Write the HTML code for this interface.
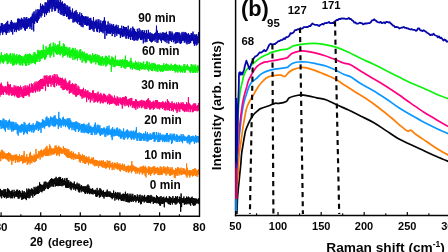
<!DOCTYPE html>
<html><head><meta charset="utf-8"><title>XRD and Raman</title>
<style>
html,body{margin:0;padding:0;background:#fff;}
body{width:448px;height:252px;overflow:hidden;}
svg{display:block;}
svg text{font-family:"Liberation Sans",sans-serif;font-weight:bold;fill:#060606;}
</style></head><body>
<svg width="448" height="252" viewBox="0 0 448 252">
<rect width="448" height="252" fill="#fff"/>
<g id="left-curves">
<path d="M-1.0,34.6 -0.5,23.4 -0.1,35.3 0.4,26.2 0.8,33.0 1.3,23.1 1.7,31.5 2.2,23.1 2.7,34.8 3.1,24.4 3.6,32.3 4.0,25.0 4.5,31.9 4.9,24.0 5.4,32.8 5.8,23.3 6.3,34.9 6.8,21.9 7.2,33.0 7.7,20.8 8.1,30.9 8.6,24.4 9.0,32.6 9.5,24.7 10.0,29.7 10.4,22.3 10.9,31.5 11.3,20.2 11.8,32.1 12.2,21.8 12.7,34.5 13.2,22.9 13.6,28.8 14.1,22.9 14.5,31.9 15.0,22.6 15.4,30.1 15.9,23.4 16.3,32.1 16.8,22.4 17.3,29.3 17.7,18.7 18.2,30.2 18.6,18.6 19.1,30.7 19.5,18.9 20.0,27.8 20.5,19.6 20.9,29.7 21.4,17.8 21.8,28.7 22.3,18.8 22.7,27.0 23.2,19.6 23.7,28.1 24.1,17.0 24.6,30.2 25.0,19.0 25.5,30.8 25.9,17.6 26.4,28.6 26.8,17.0 27.3,28.6 27.8,19.1 28.2,27.0 28.7,18.2 29.1,26.5 29.6,18.5 30.0,28.9 30.5,17.4 31.0,27.0 31.4,16.5 31.9,29.8 32.3,14.0 32.8,23.1 33.2,12.5 33.7,31.4 34.1,11.4 34.6,24.0 35.1,14.5 35.5,21.2 36.0,9.6 36.4,22.2 36.9,12.5 37.3,23.0 37.8,9.2 38.3,20.5 38.7,9.7 39.2,18.8 39.6,9.6 40.1,16.0 40.5,3.5 41.0,17.5 41.5,6.3 41.9,15.9 42.4,4.4 42.8,13.5 43.3,5.5 43.7,12.8 44.2,6.1 44.6,17.0 45.1,2.4 45.6,13.4 46.0,2.4 46.5,15.1 46.9,2.7 47.4,12.9 47.8,0.1 48.3,11.0 48.8,0.4 49.2,12.6 49.7,-2.3 50.1,8.9 50.6,-2.9 51.0,7.7 51.5,-2.3 52.0,11.7 52.4,-3.9 52.9,9.3 53.3,-3.3 53.8,6.9 54.2,-2.5 54.7,11.2 55.1,-1.5 55.6,10.9 56.1,0.3 56.5,8.3 57.0,-0.1 57.4,8.5 57.9,0.4 58.3,12.9 58.8,-0.3 59.3,10.2 59.7,2.0 60.2,14.0 60.6,-0.6 61.1,14.9 61.5,2.5 62.0,13.4 62.5,1.5 62.9,15.4 63.4,4.0 63.8,16.1 64.3,3.3 64.7,16.0 65.2,3.8 65.6,14.1 66.1,6.9 66.6,17.0 67.0,5.0 67.5,16.3 67.9,6.3 68.4,19.1 68.8,7.4 69.3,19.4 69.8,6.7 70.2,18.6 70.7,10.1 71.1,18.4 71.6,12.4 72.0,19.0 72.5,8.6 73.0,22.6 73.4,12.9 73.9,21.8 74.3,11.7 74.8,22.2 75.2,11.2 75.7,21.2 76.1,10.1 76.6,22.4 77.1,12.1 77.5,23.6 78.0,14.7 78.4,22.0 78.9,14.0 79.3,25.0 79.8,12.4 80.3,25.2 80.7,16.3 81.2,26.5 81.6,13.3 82.1,26.7 82.5,15.1 83.0,27.3 83.5,16.1 83.9,23.4 84.4,16.7 84.8,24.9 85.3,16.2 85.7,25.0 86.2,16.5 86.6,25.7 87.1,16.8 87.6,25.6 88.0,16.7 88.5,25.3 88.9,18.8 89.4,30.0 89.8,18.0 90.3,29.7 90.8,17.8 91.2,29.0 91.7,20.3 92.1,29.1 92.6,21.3 93.0,30.5 93.5,17.1 94.0,31.9 94.4,21.8 94.9,28.8 95.3,20.8 95.8,28.0 96.2,19.6 96.7,31.5 97.1,21.3 97.6,32.1 98.1,19.2 98.5,28.8 99.0,19.5 99.4,32.6 99.9,22.6 100.3,31.4 100.8,20.4 101.3,31.8 101.7,23.5 102.2,32.3 102.6,21.2 103.1,33.3 103.5,20.6 104.0,31.1 104.4,17.3 104.9,38.9 105.4,20.8 105.8,30.9 106.3,25.2 106.7,35.5 107.2,24.6 107.6,33.4 108.1,21.4 108.6,33.5 109.0,25.0 109.5,33.5 109.9,23.4 110.4,34.0 110.8,25.0 111.3,32.5 111.8,23.9 112.2,36.1 112.7,25.5 113.1,34.1 113.6,24.1 114.0,33.5 114.5,26.6 114.9,37.1 115.4,25.8 115.9,33.3 116.3,24.7 116.8,35.8 117.2,27.0 117.7,33.6 118.1,25.1 118.6,34.1 119.1,28.2 119.5,34.3 120.0,28.7 120.4,38.0 120.9,28.0 121.3,35.5 121.8,25.7 122.3,37.1 122.7,28.9 123.2,36.4 123.6,26.0 124.1,36.4 124.5,27.0 125.0,35.3 125.4,27.2 125.9,38.6 126.4,27.0 126.8,38.5 127.3,29.2 127.7,35.8 128.2,25.7 128.6,39.0 129.1,30.5 129.6,37.1 130.0,29.2 130.5,40.0 130.9,27.9 131.4,36.9 131.8,31.2 132.3,40.0 132.8,26.6 133.2,39.8 133.7,28.2 134.1,40.9 134.6,29.0 135.0,40.3 135.5,31.1 135.9,39.9 136.4,32.1 136.9,40.5 137.3,28.8 137.8,40.4 138.2,31.2 138.7,39.1 139.1,28.2 139.6,37.7 140.1,29.7 140.5,40.0 141.0,31.8 141.4,40.1 141.9,30.4 142.3,39.4 142.8,30.0 143.3,43.4 143.7,32.0 144.2,38.6 144.6,30.5 145.1,42.3 145.5,33.1 146.0,41.1 146.4,30.0 146.9,42.1 147.4,33.4 147.8,38.7 148.3,29.8 148.7,38.8 149.2,33.3 149.6,40.8 150.1,32.2 150.6,41.6 151.0,33.4 151.5,42.4 151.9,33.3 152.4,41.8 152.8,34.0 153.3,40.7 153.8,34.2 154.2,40.0 154.7,33.1 155.1,41.8 155.6,32.6 156.0,39.1 156.5,25.6 156.9,42.7 157.4,30.6 157.9,42.8 158.3,33.0 158.8,40.0 159.2,33.9 159.7,39.2 160.1,32.7 160.6,40.6 161.1,34.1 161.5,42.8 162.0,32.9 162.4,40.0 162.9,32.1 163.3,40.4 163.8,32.8 164.3,40.6 164.7,32.9 165.2,42.1 165.6,32.8 166.1,41.1 166.5,31.8 167.0,43.2 167.4,34.4 167.9,40.1 168.4,34.8 168.8,43.7 169.3,31.3 169.7,40.6 170.2,31.3 170.6,40.6 171.1,33.2 171.6,41.8 172.0,31.6 172.5,39.9 172.9,33.4 173.4,42.3 173.8,35.2 174.3,40.9 174.7,33.6 175.2,43.6 175.7,32.4 176.1,43.4 176.6,32.4 177.0,43.0 177.5,32.1 177.9,42.9 178.4,32.6 178.9,41.3 179.3,32.6 179.8,43.3 180.2,35.1 180.7,44.0 181.1,33.3 181.6,42.9 182.1,31.9 182.5,40.9 183.0,33.7 183.4,40.6 183.9,31.9 184.3,42.7 184.8,32.6 185.2,41.5 185.7,32.2 186.2,43.3 186.6,33.3 187.1,44.4 187.5,34.3 188.0,42.2 188.4,33.2 188.9,44.0 189.4,34.8 189.8,43.4 190.3,34.9 190.7,42.9 191.2,33.0 191.6,40.9 192.1,33.3 192.6,40.7 193.0,31.6 193.5,43.6 193.9,34.7 194.4,45.9 194.8,34.3 195.3,43.9 195.7,34.9 196.2,45.5 196.7,34.2 197.1,44.8 197.6,36.4 198.0,42.9 198.5,32.3 198.9,43.3 199.4,36.4" fill="none" stroke="#0707ac" stroke-width="1" stroke-linejoin="round"/>
<path d="M-1.0,61.8 -0.5,54.9 -0.1,64.2 0.4,55.5 0.8,62.5 1.3,52.2 1.7,61.3 2.2,55.3 2.7,62.8 3.1,55.3 3.6,63.6 4.0,55.3 4.5,61.5 4.9,53.8 5.4,60.5 5.8,54.6 6.3,61.2 6.8,53.0 7.2,64.2 7.7,54.5 8.1,63.5 8.6,55.5 9.0,62.7 9.5,54.4 10.0,61.7 10.4,53.0 10.9,63.9 11.3,56.1 11.8,62.3 12.2,53.6 12.7,65.6 13.2,54.7 13.6,65.3 14.1,53.4 14.5,65.0 15.0,55.0 15.4,63.3 15.9,56.3 16.3,64.8 16.8,54.0 17.3,63.5 17.7,56.2 18.2,62.4 18.6,55.0 19.1,64.3 19.5,54.6 20.0,65.3 20.5,55.2 20.9,65.3 21.4,56.1 21.8,63.4 22.3,56.3 22.7,65.7 23.2,57.3 23.7,62.9 24.1,56.1 24.6,63.5 25.0,54.6 25.5,66.0 25.9,53.8 26.4,66.0 26.8,55.0 27.3,63.0 27.8,54.0 28.2,65.3 28.7,54.2 29.1,64.9 29.6,53.6 30.0,63.0 30.5,54.0 31.0,63.7 31.4,55.3 31.9,63.1 32.3,55.8 32.8,63.1 33.2,54.2 33.7,62.5 34.1,52.1 34.6,63.6 35.1,52.4 35.5,64.3 36.0,54.0 36.4,61.7 36.9,54.1 37.3,61.8 37.8,49.8 38.3,58.9 38.7,50.2 39.2,62.0 39.6,50.8 40.1,61.2 40.5,50.7 41.0,58.8 41.5,50.0 41.9,58.8 42.4,50.4 42.8,57.6 43.3,44.7 43.7,57.3 44.2,49.8 44.6,59.6 45.1,49.8 45.6,59.2 46.0,46.1 46.5,57.3 46.9,47.6 47.4,54.9 47.8,48.6 48.3,54.1 48.8,47.2 49.2,55.1 49.7,44.1 50.1,57.7 50.6,43.4 51.0,55.7 51.5,46.9 52.0,54.5 52.4,46.4 52.9,51.8 53.3,42.5 53.8,57.1 54.2,45.7 54.7,51.6 55.1,43.4 55.6,53.1 56.1,46.3 56.5,54.3 57.0,45.2 57.4,54.7 57.9,44.3 58.3,53.7 58.8,44.6 59.3,54.5 59.7,40.9 60.2,55.3 60.6,46.7 61.1,54.1 61.5,46.2 62.0,52.6 62.5,46.7 62.9,57.4 63.4,43.4 63.8,56.0 64.3,44.2 64.7,56.0 65.2,46.9 65.6,54.9 66.1,46.7 66.6,54.8 67.0,47.1 67.5,57.2 67.9,49.0 68.4,55.4 68.8,47.6 69.3,57.5 69.8,47.3 70.2,58.0 70.7,50.0 71.1,56.0 71.6,49.5 72.0,57.7 72.5,47.8 73.0,60.0 73.4,48.4 73.9,56.1 74.3,50.3 74.8,59.6 75.2,47.9 75.7,58.9 76.1,50.6 76.6,58.1 77.1,49.7 77.5,60.5 78.0,51.1 78.4,57.8 78.9,52.8 79.3,57.8 79.8,49.5 80.3,60.1 80.7,49.2 81.2,58.1 81.6,52.2 82.1,62.7 82.5,51.3 83.0,58.6 83.5,52.7 83.9,61.3 84.4,51.8 84.8,60.8 85.3,54.2 85.7,63.2 86.2,53.4 86.6,62.4 87.1,53.4 87.6,60.1 88.0,54.8 88.5,60.2 88.9,55.2 89.4,60.9 89.8,54.5 90.3,62.5 90.8,54.9 91.2,63.7 91.7,56.4 92.1,61.0 92.6,53.2 93.0,62.8 93.5,55.2 94.0,61.9 94.4,54.9 94.9,61.9 95.3,53.9 95.8,64.4 96.2,55.9 96.7,62.1 97.1,54.2 97.6,62.7 98.1,55.3 98.5,65.0 99.0,55.0 99.4,65.2 99.9,56.4 100.3,65.4 100.8,56.7 101.3,65.6 101.7,56.9 102.2,63.8 102.6,56.0 103.1,65.8 103.5,58.3 104.0,63.5 104.4,57.8 104.9,64.7 105.4,55.8 105.8,66.6 106.3,55.9 106.7,65.9 107.2,57.1 107.6,64.3 108.1,58.3 108.6,63.5 109.0,55.4 109.5,64.5 109.9,59.6 110.4,64.8 110.8,58.8 111.3,71.9 111.8,56.5 112.2,64.7 112.7,57.0 113.1,67.0 113.6,58.1 114.0,66.1 114.5,59.7 114.9,67.3 115.4,55.6 115.9,66.2 116.3,60.2 116.8,65.3 117.2,59.6 117.7,65.8 118.1,60.9 118.6,66.2 119.1,59.7 119.5,66.0 120.0,60.1 120.4,66.2 120.9,59.5 121.3,68.1 121.8,60.0 122.3,66.0 122.7,59.1 123.2,67.2 123.6,60.5 124.1,68.1 124.5,59.6 125.0,68.7 125.4,55.6 125.9,68.2 126.4,60.1 126.8,66.6 127.3,60.3 127.7,67.0 128.2,61.9 128.6,66.7 129.1,61.6 129.6,67.2 130.0,60.9 130.5,69.1 130.9,57.8 131.4,67.8 131.8,61.2 132.3,69.7 132.8,63.4 133.2,67.6 133.7,62.7 134.1,68.6 134.6,63.1 135.0,69.0 135.5,60.8 135.9,69.5 136.4,62.2 136.9,69.7 137.3,63.2 137.8,69.8 138.2,61.7 138.7,70.0 139.1,64.0 139.6,70.8 140.1,62.2 140.5,68.7 141.0,63.0 141.4,69.6 141.9,62.8 142.3,69.1 142.8,63.7 143.3,69.2 143.7,61.4 144.2,69.6 144.6,64.7 145.1,69.7 145.5,64.2 146.0,68.3 146.4,61.7 146.9,69.3 147.4,61.4 147.8,70.2 148.3,64.9 148.7,71.4 149.2,62.1 149.6,69.1 150.1,63.8 150.6,69.8 151.0,64.7 151.5,70.8 151.9,62.8 152.4,71.2 152.8,63.2 153.3,68.8 153.8,63.4 154.2,70.9 154.7,63.2 155.1,70.1 155.6,64.1 156.0,71.5 156.5,65.5 156.9,70.5 157.4,64.6 157.9,72.1 158.3,64.9 158.8,69.1 159.2,64.3 159.7,71.0 160.1,65.2 160.6,71.7 161.1,65.1 161.5,71.2 162.0,65.2 162.4,71.8 162.9,65.1 163.3,71.4 163.8,63.2 164.3,69.9 164.7,65.6 165.2,71.0 165.6,64.3 166.1,70.6 166.5,63.5 167.0,70.6 167.4,64.4 167.9,70.7 168.4,64.6 168.8,70.5 169.3,65.6 169.7,70.2 170.2,65.3 170.6,70.7 171.1,63.7 171.6,69.7 172.0,65.6 172.5,71.0 172.9,65.3 173.4,70.2 173.8,65.1 174.3,71.0 174.7,64.3 175.2,72.5 175.7,63.8 176.1,70.9 176.6,65.1 177.0,72.1 177.5,65.1 177.9,72.6 178.4,66.4 178.9,70.3 179.3,64.6 179.8,71.6 180.2,65.8 180.7,72.6 181.1,65.5 181.6,71.7 182.1,66.5 182.5,72.6 183.0,66.5 183.4,71.1 183.9,64.2 184.3,72.8 184.8,64.2 185.2,72.5 185.7,66.2 186.2,70.1 186.6,65.6 187.1,70.3 187.5,64.2 188.0,70.1 188.4,66.1 188.9,70.7 189.4,67.1 189.8,72.3 190.3,66.9 190.7,72.9 191.2,64.0 191.6,71.3 192.1,64.7 192.6,72.7 193.0,66.3 193.5,72.8 193.9,64.6 194.4,72.1 194.8,66.3 195.3,73.0 195.7,64.6 196.2,71.4 196.7,67.1 197.1,72.9 197.6,65.5 198.0,71.1 198.5,65.8 198.9,71.3 199.4,64.8" fill="none" stroke="#0cf20c" stroke-width="1" stroke-linejoin="round"/>
<path d="M-1.0,92.1 -0.5,86.0 -0.1,96.8 0.4,84.3 0.8,94.8 1.3,82.7 1.7,94.9 2.2,85.4 2.7,93.7 3.1,86.4 3.6,95.0 4.0,86.7 4.5,91.8 4.9,86.6 5.4,92.7 5.8,85.9 6.3,94.6 6.8,86.9 7.2,93.3 7.7,81.7 8.1,94.7 8.6,84.2 9.0,95.5 9.5,84.9 10.0,94.5 10.4,84.2 10.9,92.8 11.3,87.3 11.8,95.9 12.2,87.6 12.7,95.2 13.2,87.6 13.6,95.1 14.1,85.3 14.5,96.3 15.0,87.1 15.4,94.8 15.9,85.7 16.3,96.5 16.8,87.3 17.3,97.5 17.7,86.3 18.2,98.0 18.6,86.4 19.1,97.7 19.5,87.0 20.0,97.0 20.5,85.7 20.9,94.3 21.4,87.3 21.8,96.6 22.3,89.2 22.7,97.4 23.2,86.3 23.7,98.1 24.1,87.8 24.6,96.0 25.0,85.4 25.5,95.7 25.9,85.6 26.4,95.6 26.8,87.6 27.3,94.7 27.8,85.5 28.2,95.2 28.7,86.7 29.1,96.6 29.6,83.9 30.0,93.1 30.5,87.6 31.0,92.3 31.4,83.4 31.9,92.3 32.3,84.1 32.8,92.9 33.2,85.8 33.7,92.2 34.1,83.1 34.6,90.6 35.1,81.7 35.5,92.5 36.0,83.9 36.4,90.2 36.9,81.4 37.3,91.5 37.8,82.2 38.3,89.5 38.7,80.9 39.2,91.6 39.6,80.0 40.1,90.7 40.5,79.0 41.0,88.9 41.5,79.2 41.9,88.9 42.4,78.6 42.8,89.1 43.3,79.5 43.7,86.2 44.2,75.8 44.6,86.0 45.1,75.5 45.6,90.8 46.0,76.3 46.5,83.9 46.9,75.2 47.4,86.2 47.8,77.2 48.3,87.0 48.8,76.2 49.2,83.3 49.7,75.5 50.1,84.1 50.6,75.6 51.0,86.7 51.5,77.9 52.0,83.1 52.4,75.5 52.9,84.8 53.3,76.3 53.8,86.7 54.2,74.1 54.7,87.3 55.1,74.4 55.6,83.0 56.1,77.7 56.5,85.8 57.0,74.2 57.4,83.7 57.9,76.4 58.3,85.4 58.8,77.2 59.3,85.2 59.7,78.2 60.2,85.4 60.6,77.7 61.1,88.0 61.5,78.3 62.0,88.4 62.5,77.8 62.9,90.0 63.4,79.6 63.8,90.1 64.3,79.8 64.7,89.5 65.2,78.4 65.6,88.7 66.1,80.6 66.6,90.3 67.0,82.6 67.5,90.4 67.9,83.3 68.4,89.6 68.8,81.5 69.3,93.5 69.8,80.4 70.2,93.0 70.7,84.5 71.1,92.5 71.6,84.0 72.0,92.4 72.5,83.0 73.0,94.3 73.4,84.4 73.9,94.3 74.3,84.7 74.8,94.9 75.2,83.7 75.7,96.5 76.1,83.9 76.6,96.5 77.1,87.8 77.5,95.1 78.0,85.6 78.4,94.8 78.9,86.7 79.3,94.2 79.8,88.9 80.3,96.0 80.7,89.8 81.2,96.5 81.6,89.5 82.1,98.7 82.5,89.5 83.0,97.0 83.5,87.8 83.9,98.1 84.4,91.4 84.8,96.9 85.3,89.3 85.7,97.2 86.2,91.2 86.6,102.1 87.1,90.5 87.6,98.0 88.0,90.5 88.5,99.8 88.9,92.9 89.4,98.8 89.8,92.0 90.3,102.5 90.8,93.2 91.2,99.2 91.7,92.9 92.1,100.7 92.6,90.5 93.0,98.3 93.5,90.5 94.0,102.6 94.4,93.3 94.9,102.1 95.3,93.2 95.8,101.8 96.2,94.3 96.7,100.6 97.1,92.8 97.6,102.6 98.1,91.7 98.5,101.4 99.0,95.0 99.4,101.1 99.9,94.0 100.3,103.5 100.8,92.9 101.3,101.4 101.7,94.5 102.2,103.0 102.6,95.7 103.1,103.4 103.5,93.7 104.0,102.1 104.4,93.8 104.9,102.1 105.4,94.8 105.8,102.3 106.3,96.7 106.7,101.2 107.2,95.4 107.6,104.2 108.1,96.5 108.6,103.1 109.0,93.8 109.5,104.5 109.9,94.2 110.4,104.1 110.8,95.6 111.3,103.9 111.8,95.6 112.2,103.6 112.7,96.8 113.1,102.9 113.6,98.0 114.0,103.5 114.5,95.5 114.9,104.2 115.4,97.9 115.9,105.3 116.3,98.5 116.8,105.8 117.2,96.4 117.7,104.6 118.1,97.4 118.6,105.6 119.1,99.0 119.5,102.8 120.0,97.3 120.4,104.0 120.9,97.9 121.3,104.9 121.8,98.6 122.3,108.6 122.7,97.2 123.2,103.7 123.6,97.2 124.1,105.3 124.5,97.5 125.0,106.2 125.4,96.1 125.9,104.3 126.4,96.8 126.8,105.5 127.3,99.7 127.7,105.3 128.2,99.3 128.6,107.2 129.1,98.9 129.6,104.5 130.0,98.4 130.5,106.2 130.9,98.2 131.4,104.8 131.8,97.9 132.3,107.8 132.8,101.3 133.2,106.5 133.7,101.0 134.1,108.2 134.6,101.3 135.0,108.2 135.5,99.2 135.9,109.8 136.4,99.5 136.9,106.4 137.3,101.1 137.8,108.6 138.2,101.8 138.7,106.4 139.1,100.9 139.6,107.6 140.1,100.8 140.5,106.0 141.0,100.2 141.4,108.2 141.9,99.8 142.3,107.4 142.8,101.2 143.3,105.8 143.7,100.5 144.2,108.0 144.6,100.9 145.1,109.2 145.5,101.7 146.0,108.8 146.4,100.0 146.9,109.1 147.4,99.4 147.8,106.9 148.3,98.1 148.7,107.5 149.2,100.3 149.6,109.4 150.1,100.7 150.6,109.4 151.0,102.5 151.5,108.4 151.9,102.0 152.4,107.7 152.8,101.6 153.3,109.8 153.8,100.8 154.2,109.0 154.7,102.5 155.1,107.7 155.6,100.2 156.0,107.1 156.5,100.0 156.9,108.4 157.4,100.2 157.9,108.6 158.3,101.9 158.8,108.5 159.2,102.0 159.7,109.4 160.1,102.6 160.6,107.7 161.1,102.2 161.5,107.5 162.0,102.2 162.4,109.0 162.9,101.2 163.3,107.7 163.8,102.6 164.3,110.1 164.7,102.8 165.2,110.4 165.6,101.6 166.1,108.1 166.5,102.8 167.0,110.3 167.4,99.2 167.9,110.0 168.4,100.9 168.8,110.1 169.3,102.5 169.7,110.9 170.2,102.9 170.6,108.0 171.1,103.5 171.6,110.8 172.0,101.3 172.5,110.1 172.9,103.6 173.4,111.5 173.8,103.3 174.3,108.9 174.7,102.8 175.2,109.4 175.7,104.4 176.1,110.7 176.6,102.5 177.0,112.9 177.5,104.4 177.9,111.5 178.4,102.2 178.9,109.3 179.3,103.4 179.8,111.8 180.2,104.0 180.7,108.9 181.1,102.3 181.6,109.2 182.1,103.5 182.5,110.3 183.0,102.1 183.4,110.6 183.9,103.8 184.3,112.1 184.8,104.1 185.2,111.3 185.7,104.6 186.2,111.4 186.6,102.2 187.1,111.7 187.5,103.8 188.0,109.7 188.4,97.1 188.9,112.1 189.4,103.3 189.8,109.1 190.3,104.5 190.7,112.2 191.2,105.6 191.6,109.3 192.1,105.4 192.6,112.2 193.0,104.4 193.5,111.6 193.9,103.4 194.4,110.7 194.8,103.4 195.3,110.9 195.7,103.6 196.2,110.4 196.7,105.9 197.1,111.4 197.6,105.1 198.0,110.4 198.5,103.0 198.9,110.7 199.4,105.7" fill="none" stroke="#ff0080" stroke-width="1" stroke-linejoin="round"/>
<path d="M-1.0,126.6 -0.5,120.6 -0.1,129.1 0.4,120.1 0.8,126.1 1.3,120.7 1.7,128.8 2.2,120.6 2.7,128.1 3.1,118.5 3.6,128.4 4.0,118.9 4.5,130.0 4.9,120.9 5.4,131.7 5.8,120.0 6.3,127.2 6.8,120.6 7.2,128.1 7.7,122.0 8.1,129.9 8.6,120.5 9.0,127.2 9.5,119.5 10.0,129.7 10.4,121.6 10.9,128.3 11.3,121.9 11.8,131.9 12.2,121.8 12.7,130.3 13.2,121.7 13.6,131.1 14.1,122.4 14.5,130.0 15.0,124.6 15.4,129.6 15.9,122.2 16.3,129.8 16.8,123.8 17.3,133.8 17.7,123.9 18.2,135.6 18.6,125.3 19.1,130.9 19.5,125.7 20.0,132.6 20.5,125.4 20.9,132.6 21.4,123.9 21.8,132.2 22.3,124.1 22.7,131.1 23.2,124.7 23.7,134.7 24.1,121.9 24.6,133.4 25.0,122.9 25.5,132.0 25.9,125.4 26.4,132.8 26.8,124.7 27.3,134.2 27.8,124.8 28.2,130.9 28.7,123.7 29.1,131.5 29.6,122.8 30.0,131.3 30.5,125.0 31.0,130.8 31.4,124.8 31.9,132.5 32.3,124.8 32.8,130.1 33.2,123.3 33.7,132.7 34.1,125.0 34.6,131.2 35.1,124.8 35.5,129.2 36.0,123.3 36.4,130.0 36.9,120.9 37.3,128.5 37.8,121.5 38.3,131.1 38.7,122.1 39.2,129.8 39.6,122.4 40.1,128.5 40.5,122.8 41.0,132.9 41.5,122.6 41.9,127.2 42.4,119.3 42.8,128.1 43.3,119.7 43.7,127.0 44.2,120.7 44.6,128.6 45.1,120.5 45.6,126.2 46.0,117.5 46.5,125.9 46.9,116.4 47.4,125.3 47.8,118.0 48.3,126.5 48.8,117.9 49.2,127.3 49.7,119.7 50.1,126.3 50.6,116.5 51.0,124.1 51.5,117.4 52.0,125.6 52.4,117.9 52.9,125.9 53.3,116.9 53.8,126.6 54.2,115.8 54.7,126.3 55.1,115.3 55.6,126.3 56.1,118.3 56.5,124.2 57.0,119.1 57.4,124.7 57.9,119.0 58.3,129.0 58.8,111.9 59.3,126.3 59.7,118.1 60.2,125.8 60.6,118.7 61.1,127.8 61.5,119.9 62.0,125.5 62.5,117.7 62.9,125.0 63.4,116.8 63.8,126.4 64.3,118.9 64.7,124.9 65.2,119.4 65.6,127.2 66.1,119.7 66.6,125.3 67.0,118.8 67.5,126.6 67.9,118.0 68.4,128.4 68.8,118.8 69.3,129.5 69.8,118.1 70.2,127.6 70.7,120.1 71.1,127.6 71.6,121.8 72.0,130.2 72.5,122.5 73.0,128.1 73.4,122.3 73.9,130.1 74.3,122.4 74.8,130.6 75.2,122.0 75.7,131.8 76.1,121.2 76.6,129.0 77.1,122.0 77.5,129.1 78.0,122.6 78.4,132.0 78.9,123.5 79.3,130.9 79.8,123.2 80.3,129.4 80.7,125.1 81.2,132.6 81.6,124.0 82.1,132.2 82.5,124.0 83.0,133.0 83.5,123.7 83.9,131.8 84.4,123.8 84.8,133.2 85.3,125.5 85.7,131.9 86.2,124.5 86.6,132.7 87.1,126.0 87.6,133.3 88.0,124.0 88.5,133.6 88.9,122.7 89.4,132.6 89.8,125.9 90.3,132.6 90.8,125.8 91.2,134.9 91.7,126.9 92.1,135.1 92.6,127.4 93.0,131.9 93.5,126.9 94.0,132.8 94.4,124.6 94.9,135.1 95.3,122.5 95.8,133.5 96.2,127.3 96.7,134.5 97.1,124.9 97.6,132.7 98.1,124.6 98.5,132.4 99.0,125.8 99.4,134.4 99.9,125.3 100.3,136.0 100.8,128.7 101.3,134.6 101.7,128.0 102.2,134.5 102.6,128.8 103.1,134.4 103.5,127.7 104.0,133.1 104.4,127.6 104.9,136.6 105.4,129.2 105.8,136.9 106.3,127.8 106.7,134.3 107.2,126.1 107.6,135.4 108.1,128.2 108.6,135.1 109.0,125.6 109.5,134.3 109.9,129.3 110.4,135.0 110.8,129.9 111.3,137.2 111.8,128.6 112.2,140.1 112.7,127.2 113.1,136.2 113.6,129.6 114.0,136.4 114.5,128.9 114.9,135.7 115.4,130.0 115.9,136.0 116.3,128.3 116.8,135.4 117.2,127.5 117.7,135.8 118.1,130.3 118.6,136.5 119.1,128.7 119.5,136.5 120.0,129.1 120.4,138.6 120.9,130.8 121.3,138.4 121.8,130.7 122.3,137.0 122.7,131.5 123.2,138.9 123.6,128.4 124.1,140.0 124.5,131.9 125.0,138.4 125.4,131.5 125.9,137.7 126.4,130.0 126.8,136.8 127.3,129.4 127.7,139.3 128.2,130.5 128.6,138.1 129.1,132.2 129.6,137.0 130.0,131.2 130.5,138.3 130.9,130.8 131.4,139.8 131.8,130.8 132.3,138.1 132.8,131.7 133.2,139.4 133.7,130.6 134.1,139.6 134.6,131.9 135.0,137.8 135.5,130.7 135.9,138.4 136.4,127.2 136.9,140.6 137.3,133.2 137.8,140.8 138.2,133.3 138.7,138.0 139.1,132.4 139.6,140.7 140.1,132.8 140.5,140.8 141.0,133.0 141.4,140.8 141.9,134.0 142.3,139.0 142.8,134.1 143.3,140.7 143.7,133.0 144.2,140.4 144.6,133.9 145.1,140.8 145.5,131.4 146.0,138.6 146.4,133.8 146.9,141.4 147.4,132.0 147.8,141.5 148.3,134.2 148.7,140.5 149.2,134.8 149.6,140.1 150.1,133.2 150.6,139.5 151.0,133.8 151.5,140.0 151.9,135.0 152.4,139.0 152.8,132.7 153.3,138.8 153.8,132.0 154.2,141.9 154.7,132.1 155.1,141.5 155.6,135.4 156.0,139.3 156.5,132.1 156.9,139.6 157.4,135.3 157.9,142.1 158.3,132.5 158.8,141.6 159.2,134.8 159.7,141.9 160.1,132.9 160.6,140.2 161.1,135.3 161.5,139.6 162.0,134.4 162.4,141.9 162.9,135.5 163.3,140.6 163.8,134.6 164.3,142.2 164.7,135.3 165.2,141.4 165.6,134.8 166.1,141.4 166.5,133.2 167.0,142.1 167.4,133.2 167.9,140.3 168.4,135.1 168.8,142.2 169.3,134.8 169.7,140.4 170.2,133.6 170.6,139.7 171.1,135.6 171.6,144.0 172.0,133.7 172.5,142.8 172.9,135.1 173.4,139.8 173.8,133.7 174.3,140.7 174.7,133.9 175.2,139.8 175.7,136.4 176.1,141.8 176.6,134.3 177.0,141.7 177.5,134.9 177.9,141.9 178.4,136.3 178.9,140.2 179.3,135.6 179.8,141.8 180.2,136.0 180.7,140.7 181.1,134.2 181.6,141.5 182.1,136.1 182.5,143.2 183.0,134.0 183.4,140.4 183.9,135.5 184.3,141.1 184.8,136.1 185.2,140.5 185.7,136.9 186.2,140.6 186.6,136.9 187.1,142.6 187.5,136.4 188.0,143.4 188.4,134.9 188.9,141.5 189.4,135.3 189.8,144.4 190.3,137.1 190.7,142.5 191.2,136.1 191.6,141.8 192.1,136.1 192.6,141.1 193.0,135.7 193.5,141.6 193.9,136.5 194.4,143.9 194.8,136.8 195.3,142.0 195.7,135.0 196.2,142.9 196.7,136.2 197.1,141.9 197.6,136.1 198.0,142.4 198.5,136.4 198.9,142.5 199.4,137.9" fill="none" stroke="#0c96ff" stroke-width="1" stroke-linejoin="round"/>
<path d="M-1.0,157.0 -0.5,153.3 -0.1,158.5 0.4,152.4 0.8,161.2 1.3,150.4 1.7,157.8 2.2,149.7 2.7,159.2 3.1,151.3 3.6,158.9 4.0,151.7 4.5,157.8 4.9,152.9 5.4,159.1 5.8,153.8 6.3,159.1 6.8,153.4 7.2,159.9 7.7,153.2 8.1,160.9 8.6,152.3 9.0,161.8 9.5,153.0 10.0,159.6 10.4,153.5 10.9,160.4 11.3,154.8 11.8,164.9 12.2,155.0 12.7,161.0 13.2,155.7 13.6,161.2 14.1,154.7 14.5,159.6 15.0,155.3 15.4,163.0 15.9,154.4 16.3,160.1 16.8,154.6 17.3,162.4 17.7,156.2 18.2,161.5 18.6,156.1 19.1,162.2 19.5,154.3 20.0,161.3 20.5,156.6 20.9,161.1 21.4,155.3 21.8,161.1 22.3,155.7 22.7,163.6 23.2,154.9 23.7,163.1 24.1,151.0 24.6,162.3 25.0,156.7 25.5,162.6 25.9,156.9 26.4,161.3 26.8,154.2 27.3,164.9 27.8,157.0 28.2,163.4 28.7,157.0 29.1,161.7 29.6,152.9 30.0,164.4 30.5,151.8 31.0,162.7 31.4,155.6 31.9,163.1 32.3,155.7 32.8,160.7 33.2,156.0 33.7,161.8 34.1,154.3 34.6,162.3 35.1,155.2 35.5,161.5 36.0,149.0 36.4,160.8 36.9,154.3 37.3,158.3 37.8,153.8 38.3,158.4 38.7,151.0 39.2,157.2 39.6,151.6 40.1,159.6 40.5,150.4 41.0,156.1 41.5,149.5 41.9,157.4 42.4,151.0 42.8,157.1 43.3,150.0 43.7,156.1 44.2,148.8 44.6,154.8 45.1,148.8 45.6,156.1 46.0,147.0 46.5,155.9 46.9,145.9 47.4,155.7 47.8,148.3 48.3,155.9 48.8,149.0 49.2,155.5 49.7,144.4 50.1,153.7 50.6,146.3 51.0,155.5 51.5,148.3 52.0,154.4 52.4,148.7 52.9,154.4 53.3,148.5 53.8,154.3 54.2,148.5 54.7,154.2 55.1,145.7 55.6,153.0 56.1,145.4 56.5,155.5 57.0,147.0 57.4,155.2 57.9,147.6 58.3,154.1 58.8,145.7 59.3,156.3 59.7,147.2 60.2,153.2 60.6,147.5 61.1,153.7 61.5,148.4 62.0,153.9 62.5,149.0 62.9,153.3 63.4,146.2 63.8,153.4 64.3,148.2 64.7,154.8 65.2,148.0 65.6,155.8 66.1,149.1 66.6,156.8 67.0,148.7 67.5,157.6 67.9,149.6 68.4,157.9 68.8,149.1 69.3,157.8 69.8,151.3 70.2,157.9 70.7,152.5 71.1,158.7 71.6,151.1 72.0,159.4 72.5,153.2 73.0,157.5 73.4,151.7 73.9,159.8 74.3,154.0 74.8,157.8 75.2,153.5 75.7,159.2 76.1,154.7 76.6,158.7 77.1,154.6 77.5,158.7 78.0,155.1 78.4,159.1 78.9,152.2 79.3,161.7 79.8,154.0 80.3,162.8 80.7,154.9 81.2,160.8 81.6,155.9 82.1,160.8 82.5,154.1 83.0,163.1 83.5,155.6 83.9,162.8 84.4,155.3 84.8,163.7 85.3,157.2 85.7,163.9 86.2,156.2 86.6,162.5 87.1,157.6 87.6,162.5 88.0,157.0 88.5,165.2 88.9,156.5 89.4,162.9 89.8,158.9 90.3,163.6 90.8,159.0 91.2,163.4 91.7,157.5 92.1,164.1 92.6,158.2 93.0,164.4 93.5,157.1 94.0,165.5 94.4,160.0 94.9,166.3 95.3,159.8 95.8,165.5 96.2,160.0 96.7,165.8 97.1,160.2 97.6,165.5 98.1,160.9 98.5,167.7 99.0,161.0 99.4,165.8 99.9,160.5 100.3,165.5 100.8,161.3 101.3,166.6 101.7,160.4 102.2,167.2 102.6,161.3 103.1,167.8 103.5,160.3 104.0,166.7 104.4,162.1 104.9,168.0 105.4,161.7 105.8,168.8 106.3,163.1 106.7,168.1 107.2,160.4 107.6,167.2 108.1,160.8 108.6,167.4 109.0,161.2 109.5,169.5 109.9,160.8 110.4,167.3 110.8,163.4 111.3,167.4 111.8,163.1 112.2,170.1 112.7,162.3 113.1,167.9 113.6,164.1 114.0,169.9 114.5,162.7 114.9,167.8 115.4,163.0 115.9,168.6 116.3,164.1 116.8,168.5 117.2,162.2 117.7,169.7 118.1,163.5 118.6,169.1 119.1,164.4 119.5,170.6 120.0,163.4 120.4,171.5 120.9,165.1 121.3,169.7 121.8,164.7 122.3,170.0 122.7,163.6 123.2,170.3 123.6,165.1 124.1,170.9 124.5,164.1 125.0,170.5 125.4,166.5 125.9,171.8 126.4,166.3 126.8,172.3 127.3,166.0 127.7,170.6 128.2,165.3 128.6,172.7 129.1,165.9 129.6,171.6 130.0,166.0 130.5,170.7 130.9,165.5 131.4,173.2 131.8,161.0 132.3,171.4 132.8,164.9 133.2,170.8 133.7,165.7 134.1,171.0 134.6,166.7 135.0,172.2 135.5,166.7 135.9,173.9 136.4,167.1 136.9,171.3 137.3,167.9 137.8,173.5 138.2,167.9 138.7,171.5 139.1,167.8 139.6,174.3 140.1,167.1 140.5,172.1 141.0,166.5 141.4,172.7 141.9,166.9 142.3,174.6 142.8,166.2 143.3,173.3 143.7,165.7 144.2,173.2 144.6,167.3 145.1,175.7 145.5,165.9 146.0,177.4 146.4,167.7 146.9,173.1 147.4,168.8 147.8,172.6 148.3,166.6 148.7,175.0 149.2,166.4 149.6,174.0 150.1,167.3 150.6,175.9 151.0,167.5 151.5,174.1 151.9,167.6 152.4,173.2 152.8,166.8 153.3,172.4 153.8,166.2 154.2,175.1 154.7,166.3 155.1,173.7 155.6,167.9 156.0,173.5 156.5,167.9 156.9,173.0 157.4,166.9 157.9,175.0 158.3,167.9 158.8,175.0 159.2,168.5 159.7,175.1 160.1,166.5 160.6,174.5 161.1,166.6 161.5,174.7 162.0,167.4 162.4,174.6 162.9,169.4 163.3,173.0 163.8,166.1 164.3,173.2 164.7,167.6 165.2,173.8 165.6,167.4 166.1,175.6 166.5,167.8 167.0,172.9 167.4,166.4 167.9,174.3 168.4,167.2 168.8,173.3 169.3,169.0 169.7,175.7 170.2,167.3 170.6,175.7 171.1,168.3 171.6,175.0 172.0,167.1 172.5,175.0 172.9,169.0 173.4,173.5 173.8,170.0 174.3,177.5 174.7,170.0 175.2,178.2 175.7,168.2 176.1,175.8 176.6,168.9 177.0,174.3 177.5,167.4 177.9,176.0 178.4,167.3 178.9,173.4 179.3,168.5 179.8,175.3 180.2,168.7 180.7,174.0 181.1,167.6 181.6,175.1 182.1,170.3 182.5,174.5 183.0,168.2 183.4,174.1 183.9,168.1 184.3,174.2 184.8,169.2 185.2,174.5 185.7,170.1 186.2,176.3 186.6,163.5 187.1,177.6 187.5,167.9 188.0,174.6 188.4,170.6 188.9,175.4 189.4,170.0 189.8,177.6 190.3,170.2 190.7,176.0 191.2,170.7 191.6,174.7 192.1,170.2 192.6,176.5 193.0,169.0 193.5,176.0 193.9,169.1 194.4,174.9 194.8,168.2 195.3,175.9 195.7,168.7 196.2,175.6 196.7,170.4 197.1,176.9 197.6,170.2 198.0,174.7 198.5,169.1 198.9,174.5 199.4,168.8" fill="none" stroke="#ff7d05" stroke-width="1" stroke-linejoin="round"/>
<path d="M-1.0,197.6 -0.5,191.4 -0.1,197.2 0.4,188.9 0.8,196.1 1.3,190.4 1.7,198.3 2.2,190.6 2.7,195.6 3.1,190.3 3.6,197.1 4.0,189.0 4.5,197.8 4.9,189.6 5.4,196.8 5.8,189.2 6.3,198.4 6.8,191.9 7.2,197.9 7.7,188.2 8.1,197.9 8.6,189.1 9.0,196.6 9.5,190.4 10.0,197.6 10.4,191.4 10.9,198.4 11.3,191.0 11.8,198.0 12.2,189.9 12.7,198.3 13.2,192.2 13.6,196.2 14.1,189.8 14.5,198.2 15.0,192.1 15.4,196.5 15.9,191.0 16.3,196.7 16.8,189.7 17.3,197.0 17.7,189.7 18.2,198.7 18.6,191.1 19.1,198.7 19.5,190.0 20.0,197.5 20.5,191.5 20.9,196.8 21.4,193.1 21.8,199.9 22.3,190.5 22.7,199.3 23.2,192.4 23.7,198.9 24.1,191.0 24.6,198.2 25.0,192.1 25.5,199.1 25.9,193.1 26.4,200.1 26.8,188.6 27.3,197.7 27.8,190.4 28.2,197.9 28.7,188.6 29.1,198.4 29.6,189.4 30.0,197.8 30.5,189.8 31.0,195.6 31.4,188.4 31.9,195.4 32.3,188.8 32.8,197.5 33.2,190.0 33.7,194.3 34.1,186.9 34.6,196.0 35.1,188.2 35.5,194.5 36.0,186.7 36.4,194.2 36.9,187.1 37.3,193.9 37.8,185.8 38.3,194.0 38.7,185.8 39.2,193.0 39.6,182.3 40.1,190.9 40.5,184.0 41.0,192.0 41.5,184.8 41.9,192.3 42.4,185.2 42.8,191.1 43.3,184.3 43.7,190.4 44.2,181.9 44.6,190.5 45.1,181.5 45.6,189.0 46.0,181.8 46.5,187.4 46.9,182.8 47.4,188.9 47.8,182.6 48.3,189.1 48.8,181.7 49.2,188.0 49.7,180.4 50.1,187.2 50.6,179.0 51.0,185.7 51.5,178.3 52.0,186.8 52.4,178.8 52.9,185.9 53.3,179.1 53.8,186.9 54.2,178.8 54.7,184.2 55.1,178.1 55.6,186.4 56.1,176.8 56.5,185.9 57.0,178.6 57.4,185.8 57.9,178.1 58.3,186.2 58.8,177.3 59.3,185.8 59.7,176.9 60.2,185.8 60.6,177.1 61.1,185.9 61.5,179.0 62.0,186.3 62.5,178.1 62.9,185.5 63.4,180.2 63.8,185.4 64.3,178.4 64.7,185.1 65.2,181.2 65.6,187.6 66.1,178.3 66.6,187.9 67.0,177.9 67.5,187.8 67.9,180.4 68.4,187.9 68.8,180.2 69.3,187.3 69.8,182.4 70.2,188.9 70.7,181.5 71.1,190.2 71.6,182.4 72.0,188.6 72.5,183.4 73.0,187.6 73.4,183.5 73.9,189.8 74.3,181.5 74.8,188.5 75.2,184.4 75.7,190.6 76.1,184.2 76.6,188.8 77.1,182.6 77.5,189.4 78.0,184.4 78.4,191.6 78.9,183.5 79.3,192.5 79.8,184.4 80.3,190.2 80.7,186.3 81.2,192.3 81.6,185.1 82.1,191.0 82.5,186.5 83.0,191.6 83.5,186.4 83.9,191.9 84.4,186.4 84.8,193.4 85.3,186.3 85.7,193.9 86.2,186.5 86.6,192.4 87.1,185.4 87.6,193.8 88.0,184.4 88.5,192.7 88.9,185.7 89.4,194.2 89.8,187.9 90.3,193.3 90.8,189.1 91.2,194.1 91.7,188.8 92.1,194.0 92.6,188.2 93.0,194.5 93.5,189.8 94.0,194.0 94.4,190.3 94.9,193.9 95.3,189.7 95.8,196.5 96.2,190.3 96.7,197.0 97.1,187.9 97.6,196.3 98.1,191.0 98.5,195.1 99.0,189.8 99.4,197.6 99.9,188.1 100.3,197.1 100.8,188.9 101.3,195.3 101.7,190.2 102.2,196.6 102.6,191.3 103.1,197.0 103.5,190.4 104.0,198.5 104.4,192.0 104.9,196.5 105.4,191.9 105.8,196.4 106.3,191.5 106.7,197.0 107.2,189.6 107.6,196.9 108.1,191.2 108.6,196.5 109.0,192.2 109.5,196.8 109.9,191.2 110.4,197.2 110.8,192.3 111.3,198.0 111.8,193.0 112.2,199.2 112.7,193.2 113.1,198.0 113.6,190.5 114.0,197.4 114.5,193.6 114.9,200.6 115.4,191.9 115.9,198.4 116.3,193.3 116.8,199.5 117.2,192.4 117.7,198.6 118.1,192.4 118.6,200.3 119.1,192.9 119.5,199.0 120.0,192.5 120.4,199.5 120.9,194.5 121.3,201.0 121.8,194.6 122.3,200.6 122.7,193.8 123.2,200.9 123.6,193.7 124.1,201.2 124.5,194.0 125.0,199.6 125.4,191.7 125.9,201.7 126.4,194.3 126.8,202.0 127.3,193.3 127.7,202.2 128.2,195.5 128.6,202.3 129.1,193.7 129.6,202.4 130.0,195.3 130.5,201.3 130.9,193.7 131.4,201.8 131.8,195.7 132.3,200.7 132.8,193.8 133.2,202.0 133.7,196.6 134.1,200.8 134.6,195.2 135.0,200.7 135.5,195.5 135.9,202.3 136.4,196.8 136.9,201.0 137.3,194.4 137.8,200.4 138.2,196.8 138.7,202.9 139.1,195.1 139.6,201.9 140.1,194.6 140.5,204.2 141.0,197.3 141.4,204.1 141.9,195.4 142.3,201.6 142.8,195.7 143.3,201.2 143.7,196.5 144.2,202.5 144.6,194.9 145.1,201.7 145.5,197.4 146.0,201.1 146.4,196.7 146.9,202.8 147.4,195.5 147.8,203.0 148.3,195.0 148.7,203.0 149.2,195.7 149.6,202.8 150.1,195.8 150.6,203.3 151.0,194.9 151.5,201.6 151.9,195.9 152.4,201.5 152.8,197.3 153.3,204.0 153.8,196.8 154.2,202.9 154.7,197.1 155.1,202.8 155.6,198.0 156.0,203.1 156.5,195.2 156.9,203.4 157.4,196.1 157.9,203.1 158.3,197.2 158.8,203.8 159.2,197.1 159.7,205.4 160.1,196.6 160.6,205.7 161.1,196.1 161.5,203.6 162.0,198.0 162.4,204.0 162.9,197.1 163.3,203.5 163.8,196.7 164.3,207.3 164.7,198.4 165.2,202.0 165.6,197.7 166.1,202.3 166.5,196.5 167.0,202.1 167.4,198.3 167.9,203.4 168.4,198.4 168.8,204.2 169.3,196.2 169.7,204.3 170.2,196.9 170.6,204.9 171.1,197.9 171.6,202.6 172.0,197.7 172.5,204.4 172.9,196.0 173.4,202.5 173.8,198.8 174.3,203.0 174.7,197.9 175.2,204.4 175.7,196.0 176.1,204.4 176.6,197.2 177.0,203.5 177.5,196.2 177.9,202.4 178.4,199.0 178.9,202.3 179.3,196.6 179.8,203.9 180.2,197.0 180.7,211.8 181.1,193.5 181.6,207.1 182.1,198.2 182.5,202.7 183.0,198.0 183.4,203.0 183.9,196.5 184.3,204.8 184.8,198.5 185.2,204.1 185.7,198.0 186.2,204.4 186.6,196.6 187.1,203.4 187.5,197.6 188.0,204.2 188.4,196.6 188.9,203.3 189.4,197.6 189.8,204.3 190.3,198.0 190.7,205.7 191.2,197.5 191.6,202.9 192.1,196.7 192.6,204.5 193.0,198.0 193.5,205.8 193.9,198.0 194.4,205.4 194.8,198.5 195.3,205.2 195.7,198.6 196.2,203.5 196.7,198.7 197.1,203.3 197.6,199.6 198.0,203.4 198.5,198.4 198.9,204.1 199.4,199.5" fill="none" stroke="#060606" stroke-width="1" stroke-linejoin="round"/>
</g>
<g id="axes-under">
<line x1="235.6" y1="-1" x2="235.6" y2="216.25" stroke="#060606" stroke-width="1.5"/>
</g>
<g id="right-curves">
<path d="M236.9,214.0 C237.0,211.7 237.2,204.0 237.4,200.0 C237.6,196.0 237.9,193.3 238.2,190.0 C238.5,186.7 238.9,183.0 239.2,180.0 C239.5,177.0 239.7,174.8 240.0,172.0 C240.3,169.2 240.6,166.0 240.9,163.0 C241.2,160.0 241.2,157.0 241.6,154.0 C241.9,151.0 242.5,148.0 243.0,145.0 C243.5,142.0 244.0,138.5 244.5,136.0 C245.0,133.5 245.1,132.1 245.8,130.0 C246.5,127.9 247.6,125.4 248.5,123.4 C249.4,121.4 250.3,119.6 251.3,118.0 C252.3,116.4 253.2,115.0 254.3,113.8 C255.4,112.6 256.6,111.7 257.6,110.8 C258.7,109.9 258.7,109.4 260.6,108.6 C262.5,107.8 266.6,106.6 269.0,105.7 C271.4,104.8 273.3,103.7 275.0,103.3 C276.7,102.9 277.1,103.7 279.0,103.4 C280.9,103.1 284.6,102.3 286.3,101.4 C288.0,100.5 287.8,98.9 289.0,98.0 C290.2,97.1 291.7,96.7 293.7,96.2 C295.7,95.7 298.5,95.0 300.9,94.9 C303.3,94.9 305.4,95.4 308.0,95.9 C310.6,96.4 313.5,97.1 316.6,97.8 C319.7,98.5 323.3,98.8 326.6,100.0 C329.9,101.2 333.0,103.0 336.6,104.7 C340.2,106.4 344.4,108.1 348.5,110.0 C352.6,111.9 356.8,114.2 361.0,116.2 C365.2,118.3 369.3,120.1 373.5,122.5 C377.7,124.9 381.8,127.9 386.0,130.6 C390.2,133.3 394.3,136.4 398.5,138.8 C402.7,141.1 406.8,142.8 411.0,144.8 C415.2,146.8 419.3,148.6 423.5,150.5 C427.7,152.4 431.8,154.4 436.0,156.2 C440.2,158.1 446.8,160.8 449.0,161.7" fill="none" stroke="#060606" stroke-width="1.7" stroke-linejoin="round" stroke-linecap="butt"/>
<path d="M237.3,184.0 C237.5,182.0 238.0,175.5 238.2,172.0 C238.4,168.5 238.4,166.0 238.6,163.0 C238.8,160.0 238.9,157.0 239.2,154.0 C239.5,151.0 240.1,148.0 240.5,145.0 C240.9,142.0 241.4,139.0 241.8,136.0 C242.2,133.0 242.5,130.0 243.0,127.0 C243.5,124.0 244.1,120.8 244.6,118.0 C245.1,115.2 245.5,112.6 246.0,110.5 C246.5,108.4 246.9,107.2 247.6,105.5 C248.3,103.8 249.1,102.2 250.0,100.5 C250.9,98.8 252.1,97.0 253.3,95.0 C254.5,93.0 255.7,90.7 257.0,88.7 C258.3,86.7 259.4,84.8 261.0,83.0 C262.6,81.2 264.5,79.2 266.3,78.0 C268.1,76.8 269.6,76.4 272.0,75.9 C274.4,75.4 278.5,75.1 280.6,75.2 C282.8,75.3 283.5,76.9 284.9,76.4 C286.3,75.9 287.7,73.2 289.2,72.0 C290.7,70.8 291.8,70.2 293.7,69.4 C295.6,68.7 298.8,67.8 300.9,67.5 C303.0,67.2 304.0,67.3 306.6,67.9 C309.2,68.5 313.3,69.9 316.6,71.1 C319.9,72.3 323.5,73.8 326.6,75.1 C329.7,76.4 331.9,77.2 335.1,79.0 C338.3,80.8 342.5,83.8 346.0,86.0 C349.5,88.2 352.7,90.4 356.0,92.5 C359.3,94.6 362.2,96.0 366.0,98.5 C369.8,101.0 374.3,104.3 378.5,107.5 C382.7,110.7 387.2,114.4 391.0,117.5 C394.8,120.6 398.4,124.1 401.0,126.2 C403.6,128.4 405.2,129.8 406.5,130.6 C407.8,131.4 408.1,131.1 408.8,131.0 C409.6,130.9 409.8,129.6 411.0,130.2 C412.2,130.8 413.5,132.7 416.0,134.5 C418.5,136.3 422.7,139.0 426.0,141.2 C429.3,143.5 432.2,145.6 436.0,148.0 C439.8,150.4 446.8,154.3 449.0,155.6" fill="none" stroke="#ff7d05" stroke-width="1.7" stroke-linejoin="round" stroke-linecap="butt"/>
<path d="M236.2,211.0 C236.2,209.0 236.3,204.2 236.4,199.0 C236.5,193.8 236.5,185.7 236.6,180.0 C236.7,174.3 236.8,170.0 237.0,165.0 C237.2,160.0 237.6,154.8 238.0,150.0 C238.4,145.2 238.9,139.8 239.3,136.0 C239.7,132.2 240.0,130.2 240.3,127.0 C240.7,123.8 241.0,120.1 241.4,117.0 C241.8,113.9 242.2,111.4 242.7,108.6 C243.2,105.8 243.9,102.5 244.6,100.0 C245.2,97.5 245.9,95.9 246.6,93.7 C247.3,91.5 248.2,88.5 249.0,86.6 C249.8,84.7 250.3,83.6 251.5,82.3 C252.7,81.0 254.8,80.0 256.3,78.7 C257.8,77.4 258.9,75.6 260.6,74.4 C262.3,73.2 263.9,72.3 266.3,71.4 C268.7,70.5 271.7,69.7 275.0,69.1 C278.3,68.5 284.0,68.1 286.3,67.6 C288.6,67.1 288.0,66.7 289.0,66.0 C290.0,65.3 290.8,64.2 292.3,63.5 C293.8,62.8 295.6,62.2 298.0,62.0 C300.4,61.8 303.5,61.7 306.6,62.0 C309.7,62.3 313.3,63.2 316.6,63.9 C319.9,64.6 323.5,65.2 326.6,66.2 C329.7,67.2 332.3,68.5 335.1,69.8 C337.9,71.1 340.9,73.1 343.5,74.3 C346.1,75.5 348.1,75.4 351.0,77.0 C353.9,78.6 357.2,81.5 361.0,83.8 C364.8,86.0 369.3,88.3 373.5,90.8 C377.7,93.3 381.8,96.0 386.0,98.8 C390.2,101.5 394.3,104.8 398.5,107.5 C402.7,110.2 406.8,112.6 411.0,115.0 C415.2,117.4 419.3,119.8 423.5,122.0 C427.7,124.2 431.8,126.2 436.0,128.2 C440.2,130.2 446.8,133.0 449.0,134.0" fill="none" stroke="#0c96ff" stroke-width="1.7" stroke-linejoin="round" stroke-linecap="butt"/>
<path d="M236.5,199.0 C236.5,193.8 236.4,174.5 236.5,168.0 C236.6,161.5 236.6,162.3 236.8,160.0 C237.0,157.7 237.3,156.5 237.6,154.0 C237.9,151.5 238.4,148.0 238.6,145.0 C238.8,142.0 238.7,139.0 238.9,136.0 C239.1,133.0 239.3,130.0 239.6,127.0 C239.9,124.0 240.2,121.0 240.6,118.0 C240.9,115.0 241.3,112.0 241.7,109.0 C242.1,106.0 242.7,102.5 243.2,100.0 C243.7,97.5 244.1,95.9 244.7,93.7 C245.3,91.5 246.1,89.0 246.7,87.0 C247.2,85.0 247.6,83.3 248.0,82.0 C248.4,80.7 248.3,80.8 249.0,79.4 C249.7,78.0 250.9,75.5 252.0,73.7 C253.1,71.9 254.2,69.9 255.3,68.4 C256.4,66.9 257.6,65.9 258.9,64.9 C260.2,63.9 261.6,63.2 263.1,62.6 C264.6,62.0 266.0,62.0 268.0,61.6 C270.0,61.2 271.8,60.9 274.9,60.3 C277.9,59.7 283.9,58.8 286.3,58.1 C288.7,57.4 288.0,56.8 289.0,56.0 C290.0,55.2 290.6,54.1 292.3,53.3 C294.0,52.5 297.3,51.5 299.4,51.1 C301.5,50.7 302.5,50.8 305.1,51.1 C307.7,51.4 311.8,52.1 315.1,52.9 C318.4,53.7 321.8,54.6 325.1,55.7 C328.4,56.8 332.0,58.2 335.1,59.4 C338.2,60.6 340.9,62.1 343.5,63.0 C346.1,63.9 348.1,63.6 351.0,65.0 C353.9,66.4 357.2,69.0 361.0,71.2 C364.8,73.5 369.3,76.2 373.5,78.8 C377.7,81.2 381.8,83.6 386.0,86.2 C390.2,88.9 394.3,91.6 398.5,94.5 C402.7,97.4 406.8,100.5 411.0,103.4 C415.2,106.3 419.3,109.3 423.5,112.0 C427.7,114.7 431.8,116.9 436.0,119.4 C440.2,121.9 446.8,125.7 449.0,126.9" fill="none" stroke="#ff0080" stroke-width="1.7" stroke-linejoin="round" stroke-linecap="butt"/>
<path d="M237.0,158.0 C237.1,156.7 237.2,153.8 237.3,150.0 C237.4,146.2 237.7,140.3 237.8,135.0 C237.9,129.7 237.9,122.5 238.0,118.0 C238.1,113.5 238.3,111.0 238.5,108.0 C238.7,105.0 238.9,103.0 239.2,100.0 C239.5,97.0 239.9,93.0 240.4,90.0 C240.9,87.0 241.7,84.5 242.3,82.0 C242.9,79.5 243.3,77.1 244.0,75.0 C244.7,72.9 245.5,71.1 246.7,69.5 C247.9,67.9 249.7,66.8 251.0,65.6 C252.3,64.4 253.2,63.6 254.6,62.4 C256.0,61.2 257.9,59.5 259.6,58.4 C261.3,57.3 263.2,56.3 264.6,55.6 C266.0,54.9 267.0,54.7 268.0,54.2 C269.0,53.7 268.8,53.2 270.6,52.6 C272.4,52.0 276.1,50.9 279.0,50.3 C281.9,49.7 285.2,49.6 287.7,48.9 C290.1,48.1 291.5,46.6 293.7,45.8 C295.9,45.0 297.6,44.7 300.9,44.3 C304.2,43.9 309.9,43.4 313.7,43.4 C317.5,43.4 320.1,43.7 323.7,44.3 C327.3,44.9 331.0,45.6 335.1,46.9 C339.2,48.2 344.2,50.2 348.5,52.2 C352.8,54.2 356.8,56.6 361.0,58.6 C365.2,60.6 369.3,62.2 373.5,64.2 C377.7,66.2 381.8,68.4 386.0,70.5 C390.2,72.6 394.3,74.7 398.5,76.8 C402.7,78.9 406.8,81.1 411.0,83.0 C415.2,84.9 419.3,86.4 423.5,88.2 C427.7,90.0 431.8,92.2 436.0,94.0 C440.2,95.8 446.8,98.2 449.0,99.0" fill="none" stroke="#0cf20c" stroke-width="1.7" stroke-linejoin="round" stroke-linecap="butt"/>
<path d="M236.2,98.0 L236.6,165.0 L238.1,104.0 L238.7,90.0 L238.9,82.0 L238.9,77.0 L239.1,73.2 L240.0,72.2 L240.8,74.8 L241.6,72.6 L242.4,74.5 L243.2,71.8 L244.0,70.0 L245.0,65.5 L246.4,60.7 L247.8,64.5 L249.5,69.2 L250.5,66.0 L251.4,63.4 L253.1,59.5 L254.2,57.8 L255.3,56.4 L256.4,56.0 L257.5,55.1 L258.6,53.7 L259.7,52.3 L260.8,52.7 L261.9,52.1 L263.0,51.3 L264.1,50.0 L265.2,51.1 L266.3,50.7 L267.4,48.9 L268.5,46.3 L269.6,44.4 L270.7,43.7 L271.8,44.3 L272.9,44.5 L274.0,44.0 L275.1,44.0 L276.2,42.9 L277.3,42.2 L278.4,41.2 L279.5,41.1 L280.6,40.2 L281.7,40.2 L282.8,39.5 L283.9,38.4 L285.0,39.0 L286.1,37.2 L287.2,37.2 L288.3,36.7 L289.4,35.7 L290.5,33.1 L291.6,33.6 L292.7,32.9 L293.8,32.2 L294.9,30.1 L296.0,30.1 L297.1,29.7 L298.2,29.1 L299.3,29.3 L300.4,28.1 L301.5,28.7 L302.6,28.3 L303.7,27.2 L304.8,27.1 L305.9,27.1 L307.0,27.0 L308.1,26.9 L309.2,26.0 L310.3,26.1 L311.4,24.6 L312.5,23.5 L313.6,24.2 L314.7,24.8 L315.8,24.8 L316.9,24.8 L318.0,25.4 L319.1,26.0 L320.2,25.0 L321.3,24.5 L322.4,23.9 L323.5,24.5 L324.6,23.2 L325.7,23.1 L326.8,23.0 L327.9,22.6 L329.0,22.0 L330.1,23.1 L331.2,23.2 L332.3,23.0 L333.4,23.1 L334.5,21.6 L335.6,20.9 L336.7,19.8 L337.8,20.0 L338.9,19.0 L340.0,19.2 L341.1,18.4 L342.2,18.7 L343.3,18.5 L344.4,18.6 L345.5,18.9 L346.6,18.9 L347.7,18.8 L348.8,17.9 L349.9,19.1 L351.0,19.0 L352.1,20.3 L353.2,21.0 L354.3,22.7 L355.4,22.4 L356.5,23.6 L357.6,23.7 L358.7,23.3 L359.8,22.7 L360.9,23.1 L362.0,23.1 L363.1,24.3 L364.2,23.9 L365.3,23.3 L366.4,23.5 L367.5,23.4 L368.6,23.1 L369.7,23.0 L370.8,22.2 L371.9,20.4 L373.0,20.4 L374.1,19.3 L375.2,20.2 L376.3,21.0 L377.4,22.0 L378.5,22.3 L379.6,22.5 L380.7,21.9 L381.8,23.0 L382.9,22.8 L384.0,22.3 L385.1,23.2 L386.2,21.8 L387.3,22.0 L388.4,22.5 L389.5,22.1 L390.6,23.3 L391.7,24.2 L392.8,25.5 L393.9,25.7 L395.0,27.3 L396.1,26.8 L397.2,27.1 L398.3,27.4 L399.4,28.5 L400.5,28.0 L401.6,27.7 L402.7,27.5 L403.8,27.0 L404.9,27.8 L406.0,27.9 L407.1,28.4 L408.2,28.5 L409.3,29.2 L410.4,29.5 L411.5,29.1 L412.6,29.6 L413.7,29.8 L414.8,29.9 L415.9,30.9 L417.0,30.2 L418.1,28.3 L419.2,28.5 L420.3,30.4 L421.4,30.5 L422.5,31.1 L423.6,30.2 L424.7,31.0 L425.8,31.6 L426.9,32.7 L428.0,33.3 L429.1,34.0 L430.2,35.2 L431.3,34.6 L432.4,35.0 L433.5,33.7 L434.6,35.0 L435.7,35.5 L436.8,35.8 L437.9,37.4 L439.0,36.3 L440.1,38.1 L441.2,37.6 L442.3,39.0 L443.4,40.6 L444.5,39.4 L445.6,40.1 L446.7,41.6 L447.8,41.5 L448.9,41.6" fill="none" stroke="#0707ac" stroke-width="1.8" stroke-linejoin="round" stroke-linecap="butt"/>
<line x1="236.4" y1="168" x2="236.4" y2="199.3" stroke="#c9094f" stroke-width="2"/>
<line x1="236.4" y1="163" x2="236.4" y2="168.5" stroke="#5a0a86" stroke-width="2"/>
<line x1="236" y1="199.3" x2="236" y2="210.4" stroke="#0b7fd2" stroke-width="2.2"/>
</g>
<g id="dashes">
<line x1="252.8" y1="58.3" x2="249.9" y2="214" stroke="#060606" stroke-width="2.15" stroke-dasharray="5.1 4.02"/>
<line x1="272.4" y1="44.3" x2="273.4" y2="214" stroke="#060606" stroke-width="2.15" stroke-dasharray="5.1 4.02"/>
<line x1="300.0" y1="27.9" x2="302.9" y2="214" stroke="#060606" stroke-width="2.15" stroke-dasharray="5.1 4.02"/>
<line x1="335.0" y1="21.4" x2="339.2" y2="214" stroke="#060606" stroke-width="2.15" stroke-dasharray="5.1 4.02"/>
</g>
<g id="axes">
<line x1="-1" y1="216.35" x2="200" y2="216.35" stroke="#060606" stroke-width="1.5"/>
<line x1="199.5" y1="-1" x2="199.5" y2="217.1" stroke="#060606" stroke-width="1.4"/>
<line x1="234.85" y1="215.5" x2="449" y2="215.5" stroke="#060606" stroke-width="1.5"/>
<line x1="1.1" y1="212.2" x2="1.1" y2="216.35" stroke="#060606" stroke-width="1.2"/>
<line x1="40.7" y1="212.2" x2="40.7" y2="216.35" stroke="#060606" stroke-width="1.2"/>
<line x1="80.3" y1="212.2" x2="80.3" y2="216.35" stroke="#060606" stroke-width="1.2"/>
<line x1="119.9" y1="212.2" x2="119.9" y2="216.35" stroke="#060606" stroke-width="1.2"/>
<line x1="159.6" y1="212.2" x2="159.6" y2="216.35" stroke="#060606" stroke-width="1.2"/>
<line x1="20.9" y1="214.2" x2="20.9" y2="216.35" stroke="#060606" stroke-width="1.1"/>
<line x1="60.5" y1="214.2" x2="60.5" y2="216.35" stroke="#060606" stroke-width="1.1"/>
<line x1="100.1" y1="214.2" x2="100.1" y2="216.35" stroke="#060606" stroke-width="1.1"/>
<line x1="139.7" y1="214.2" x2="139.7" y2="216.35" stroke="#060606" stroke-width="1.1"/>
<line x1="179.4" y1="214.2" x2="179.4" y2="216.35" stroke="#060606" stroke-width="1.1"/>
<line x1="278" y1="212" x2="278" y2="215.5" stroke="#060606" stroke-width="1.2"/>
<line x1="321.2" y1="212" x2="321.2" y2="215.5" stroke="#060606" stroke-width="1.2"/>
<line x1="364.2" y1="212" x2="364.2" y2="215.5" stroke="#060606" stroke-width="1.2"/>
<line x1="407.3" y1="212" x2="407.3" y2="215.5" stroke="#060606" stroke-width="1.2"/>
<line x1="256.6" y1="213.3" x2="256.6" y2="215.4" stroke="#060606" stroke-width="1.1"/>
<line x1="299.6" y1="213.3" x2="299.6" y2="215.4" stroke="#060606" stroke-width="1.1"/>
<line x1="342.7" y1="213.3" x2="342.7" y2="215.4" stroke="#060606" stroke-width="1.1"/>
<line x1="385.8" y1="213.3" x2="385.8" y2="215.4" stroke="#060606" stroke-width="1.1"/>
<line x1="428.9" y1="213.3" x2="428.9" y2="215.4" stroke="#060606" stroke-width="1.1"/>
</g>
<g id="labels">
<text x="1.1" y="230.9" font-size="11.6" text-anchor="middle" >30</text>
<text x="40.7" y="230.9" font-size="11.6" text-anchor="middle" >40</text>
<text x="80.4" y="230.9" font-size="11.6" text-anchor="middle" >50</text>
<text x="120" y="230.9" font-size="11.6" text-anchor="middle" >60</text>
<text x="159.5" y="230.9" font-size="11.6" text-anchor="middle" >70</text>
<text x="199.2" y="230.9" font-size="11.6" text-anchor="middle" >80</text>
<text x="235.4" y="229.9" font-size="11.0" text-anchor="middle" >50</text>
<text x="278" y="229.9" font-size="11.0" text-anchor="middle" >100</text>
<text x="321.3" y="229.9" font-size="11.0" text-anchor="middle" >150</text>
<text x="364" y="229.9" font-size="11.0" text-anchor="middle" >200</text>
<text x="407.2" y="229.9" font-size="11.0" text-anchor="middle" >250</text>
<text x="450.4" y="229.9" font-size="11.0" text-anchor="middle" >300</text>
<text x="29.9" y="246" font-size="12" text-anchor="start" >2θ <tspan dx="1.5" font-size="11.4">(degree)</tspan></text>
<text x="326.3" y="251.7" font-size="13.7" text-anchor="start" >Raman shift (cm<tspan font-size="8.5" dy="-5">-1</tspan><tspan dy="5">)</tspan></text>
<text x="157" y="22.2" font-size="11.85" text-anchor="middle" >90 min</text>
<text x="160.7" y="55.2" font-size="11.85" text-anchor="middle" >60 min</text>
<text x="160" y="89.2" font-size="11.85" text-anchor="middle" >30 min</text>
<text x="163" y="124.2" font-size="11.85" text-anchor="middle" >20 min</text>
<text x="163" y="159.2" font-size="11.85" text-anchor="middle" >10 min</text>
<text x="165.3" y="188.7" font-size="11.85" text-anchor="middle" >0 min</text>
<text x="247.8" y="45.4" font-size="11.4" text-anchor="middle" >68</text>
<text x="273.4" y="27.4" font-size="11.4" text-anchor="middle" >95</text>
<text x="297.3" y="13.8" font-size="11.4" text-anchor="middle" >127</text>
<text x="331.2" y="8.7" font-size="11.4" text-anchor="middle" >171</text>
<text x="241" y="15.8" font-size="21.8" text-anchor="start" >(b)</text>
<text transform="translate(220.9,105.5) rotate(-90)" font-size="13.55" text-anchor="middle">Intensity (arb. units)</text>
</g>
</svg>
</body></html>
